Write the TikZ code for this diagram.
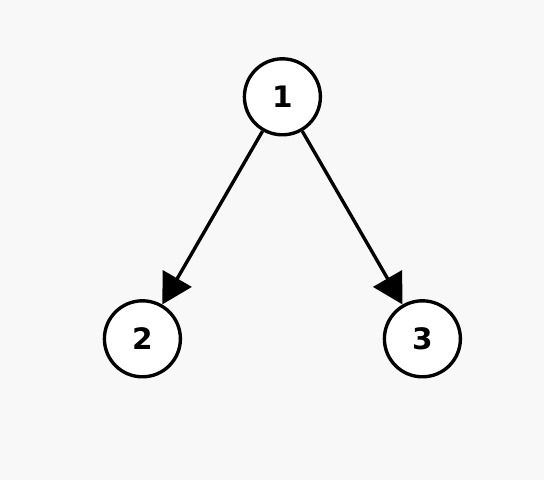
\documentclass[tikz,border=0pt]{standalone}
\usepackage{fontspec}
\setmainfont{DejaVu Sans}
\usetikzlibrary{positioning, arrows.meta}
\definecolor{bggray}{HTML}{F8F8F8}
\tikzset{
    on grid,
    node distance=3.5cm,
    vertex/.style={circle, draw, fill=white, line width=2.4pt,
        minimum size=1.9cm, inner sep=0pt,
        font=\fontsize{21}{24}\selectfont\bfseries},
    link/.style={-{Triangle[length=0.75cm, width=0.82cm]}, line width=2.4pt},
}

\begin{document}
\begin{tikzpicture}
    \fill[bggray] (0,0) rectangle (13.6,12);
    \useasboundingbox (0,0) rectangle (13.6,12);

        \node[vertex] (v1) at (7.06,9.58) {1};
        \node[vertex, below left=6.05cm and 3.5cm of v1] (v2) {2};
        \node[vertex, below right=6.05cm and 3.5cm of v1] (v3) {3};

    \path[link]
        (v1) edge (v2)
            edge (v3);
    \end{tikzpicture}
\end{document}
